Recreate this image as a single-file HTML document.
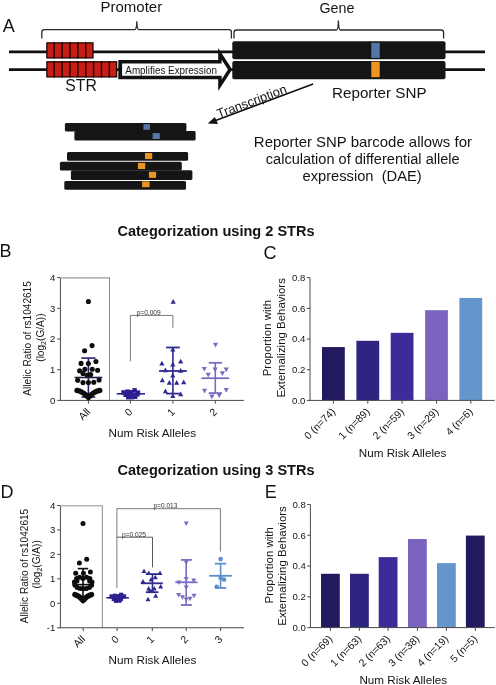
<!DOCTYPE html>
<html><head><meta charset="utf-8"><title>Figure</title>
<style>
html,body{margin:0;padding:0;background:#fff;}
body{width:496px;height:685px;overflow:hidden;}
svg{display:block;}
svg text{font-family:"Liberation Sans", Arial, Helvetica, sans-serif;}
</style></head>
<body>
<svg width="496" height="685" viewBox="0 0 496 685">
<rect x="0" y="0" width="496" height="685" fill="#fff"/>
<text x="2.70" y="31.90" font-size="18" text-anchor="start" fill="#141414">A</text>
<text x="131.30" y="11.50" font-size="15" text-anchor="middle" fill="#141414">Promoter</text>
<text x="337.00" y="13.20" font-size="14.3" text-anchor="middle" fill="#141414">Gene</text>
<path d="M41.8,38.6 L41.8,32.2 Q41.8,29.6 44.4,29.6 L134.8,29.6 Q136.6,29.6 136.8,21.2 Q137.0,29.6 138.8,29.6 L228.8,29.6 Q231.4,29.6 231.4,32.2 L231.4,38.6" fill="none" stroke="#2a2a2a" stroke-width="1.3"/>
<path d="M234.0,38.6 L234.0,32.6 Q234.0,30.0 236.6,30.0 L336.4,30.0 Q338.2,30.0 338.4,20.4 Q338.6,30.0 340.4,30.0 L441.0,30.0 Q443.6,30.0 443.6,32.6 L443.6,38.6" fill="none" stroke="#2a2a2a" stroke-width="1.3"/>
<line x1="9.00" y1="51.90" x2="485.00" y2="51.90" stroke="#111" stroke-width="2.6"/>
<line x1="9.00" y1="69.60" x2="485.00" y2="69.60" stroke="#111" stroke-width="2.6"/>
<rect x="46.90" y="42.90" width="46.08" height="15.00" fill="#c81e15" stroke="#1e0202" stroke-width="1.3"/>
<line x1="54.18" y1="42.30" x2="54.18" y2="58.50" stroke="#1e0202" stroke-width="1.45"/>
<line x1="62.06" y1="42.30" x2="62.06" y2="58.50" stroke="#1e0202" stroke-width="1.45"/>
<line x1="69.94" y1="42.30" x2="69.94" y2="58.50" stroke="#1e0202" stroke-width="1.45"/>
<line x1="77.82" y1="42.30" x2="77.82" y2="58.50" stroke="#1e0202" stroke-width="1.45"/>
<line x1="85.70" y1="42.30" x2="85.70" y2="58.50" stroke="#1e0202" stroke-width="1.45"/>
<rect x="46.90" y="61.80" width="69.72" height="15.10" fill="#c81e15" stroke="#1e0202" stroke-width="1.3"/>
<line x1="54.18" y1="61.20" x2="54.18" y2="77.50" stroke="#1e0202" stroke-width="1.45"/>
<line x1="62.06" y1="61.20" x2="62.06" y2="77.50" stroke="#1e0202" stroke-width="1.45"/>
<line x1="69.94" y1="61.20" x2="69.94" y2="77.50" stroke="#1e0202" stroke-width="1.45"/>
<line x1="77.82" y1="61.20" x2="77.82" y2="77.50" stroke="#1e0202" stroke-width="1.45"/>
<line x1="85.70" y1="61.20" x2="85.70" y2="77.50" stroke="#1e0202" stroke-width="1.45"/>
<line x1="93.58" y1="61.20" x2="93.58" y2="77.50" stroke="#1e0202" stroke-width="1.45"/>
<line x1="101.46" y1="61.20" x2="101.46" y2="77.50" stroke="#1e0202" stroke-width="1.45"/>
<line x1="109.34" y1="61.20" x2="109.34" y2="77.50" stroke="#1e0202" stroke-width="1.45"/>
<text x="81.10" y="90.60" font-size="15.8" text-anchor="middle" fill="#141414">STR</text>
<polygon points="118.3,60.0 218.2,60.0 218.2,48.1 232.2,69.6 218.2,91.1 218.2,79.3 118.3,79.3" fill="#111"/>
<polygon points="122.1,63.6 221.6,63.6 221.6,59.7 228.0,69.6 221.6,79.5 221.6,75.7 122.1,75.7" fill="#fff"/>
<text x="171.10" y="73.50" font-size="10.6" text-anchor="middle" fill="#141414" textLength="91.6" lengthAdjust="spacingAndGlyphs">Amplifies Expression</text>
<rect x="232.30" y="41.30" width="213.20" height="17.90" fill="#151515" rx="2"/>
<rect x="232.30" y="61.00" width="213.20" height="18.20" fill="#151515" rx="2"/>
<rect x="371.30" y="42.80" width="8.40" height="15.10" fill="#5577a8"/>
<rect x="371.30" y="61.70" width="8.40" height="15.50" fill="#f0941f"/>
<text x="379.30" y="97.80" font-size="15.2" text-anchor="middle" fill="#141414">Reporter SNP</text>
<line x1="313.1" y1="84.0" x2="215.0" y2="120.8" stroke="#111" stroke-width="1.6"/>
<polygon points="207.7,123.6 214.9,116.9 217.9,124.0" fill="#111"/>
<text x="253.20" y="105.40" font-size="12.8" text-anchor="middle" fill="#141414" transform="rotate(-20.6 253.20 105.40)">Transcription</text>
<rect x="64.90" y="122.90" width="121.50" height="8.50" fill="#151515" rx="1.5"/>
<rect x="74.40" y="131.00" width="121.20" height="9.50" fill="#151515" rx="1.5"/>
<rect x="143.40" y="124.20" width="6.60" height="5.60" fill="#5577a8"/>
<rect x="152.60" y="133.10" width="7.20" height="5.90" fill="#5577a8"/>
<rect x="67.00" y="152.00" width="121.10" height="8.80" fill="#151515" rx="1.5"/>
<rect x="59.90" y="161.70" width="121.90" height="8.90" fill="#151515" rx="1.5"/>
<rect x="70.90" y="170.30" width="121.50" height="9.60" fill="#151515" rx="1.5"/>
<rect x="64.30" y="181.00" width="121.70" height="8.80" fill="#151515" rx="1.5"/>
<rect x="145.00" y="153.00" width="7.20" height="6.10" fill="#eb9424"/>
<rect x="137.90" y="162.90" width="7.30" height="6.10" fill="#eb9424"/>
<rect x="148.90" y="171.80" width="7.20" height="6.10" fill="#eb9424"/>
<rect x="142.10" y="181.40" width="7.50" height="5.80" fill="#eb9424"/>
<text x="362.90" y="146.90" font-size="14.95" text-anchor="middle" fill="#141414">Reporter SNP barcode allows for</text>
<text x="362.70" y="163.60" font-size="14.55" text-anchor="middle" fill="#141414">calculation of differential allele</text>
<text x="362.10" y="180.50" font-size="14.7" text-anchor="middle" fill="#141414">expression&#160; (DAE)</text>
<text x="216.00" y="236.20" font-size="14.55" text-anchor="middle" font-weight="bold" fill="#141414">Categorization using 2 STRs</text>
<text x="216.00" y="475.20" font-size="14.55" text-anchor="middle" font-weight="bold" fill="#141414">Categorization using 3 STRs</text>
<text x="-0.40" y="256.80" font-size="18" text-anchor="start" fill="#141414">B</text>
<line x1="60.40" y1="277.60" x2="60.40" y2="400.90" stroke="#4a4a4a" stroke-width="1.0"/>
<line x1="57.20" y1="400.40" x2="60.40" y2="400.40" stroke="#4a4a4a" stroke-width="1.0"/>
<text x="55.40" y="403.85" font-size="9.6" text-anchor="end" fill="#141414">0</text>
<line x1="57.20" y1="369.70" x2="60.40" y2="369.70" stroke="#4a4a4a" stroke-width="1.0"/>
<text x="55.40" y="373.15" font-size="9.6" text-anchor="end" fill="#141414">1</text>
<line x1="57.20" y1="339.00" x2="60.40" y2="339.00" stroke="#4a4a4a" stroke-width="1.0"/>
<text x="55.40" y="342.45" font-size="9.6" text-anchor="end" fill="#141414">2</text>
<line x1="57.20" y1="308.30" x2="60.40" y2="308.30" stroke="#4a4a4a" stroke-width="1.0"/>
<text x="55.40" y="311.75" font-size="9.6" text-anchor="end" fill="#141414">3</text>
<line x1="57.20" y1="277.60" x2="60.40" y2="277.60" stroke="#4a4a4a" stroke-width="1.0"/>
<text x="55.40" y="281.05" font-size="9.6" text-anchor="end" fill="#141414">4</text>
<line x1="60.40" y1="277.90" x2="109.50" y2="277.90" stroke="#b8b8b8" stroke-width="1.6"/>
<line x1="109.50" y1="277.60" x2="109.50" y2="400.40" stroke="#8a8a8a" stroke-width="1.0"/>
<line x1="59.90" y1="400.40" x2="244.00" y2="400.40" stroke="#4a4a4a" stroke-width="1.0"/>
<line x1="88.40" y1="400.40" x2="88.40" y2="403.70" stroke="#4a4a4a" stroke-width="1.0"/>
<line x1="130.40" y1="400.40" x2="130.40" y2="403.70" stroke="#4a4a4a" stroke-width="1.0"/>
<line x1="172.90" y1="400.40" x2="172.90" y2="403.70" stroke="#4a4a4a" stroke-width="1.0"/>
<line x1="215.30" y1="400.40" x2="215.30" y2="403.70" stroke="#4a4a4a" stroke-width="1.0"/>
<text x="91.00" y="412.60" font-size="10.4" text-anchor="end" fill="#141414" transform="rotate(-45 91.00 412.60)">All</text>
<text x="133.00" y="412.60" font-size="10.4" text-anchor="end" fill="#141414" transform="rotate(-45 133.00 412.60)">0</text>
<text x="175.50" y="412.60" font-size="10.4" text-anchor="end" fill="#141414" transform="rotate(-45 175.50 412.60)">1</text>
<text x="217.90" y="412.60" font-size="10.4" text-anchor="end" fill="#141414" transform="rotate(-45 217.90 412.60)">2</text>
<text x="152.35" y="436.80" font-size="11.7" text-anchor="middle" fill="#141414">Num Risk Alleles</text>
<text x="31.20" y="338.40" font-size="10.1" text-anchor="middle" fill="#141414" transform="rotate(-90 31.20 338.40)">Allelic Ratio of rs1042615</text>
<text x="43.6" y="337.6" font-size="10.1" text-anchor="middle" fill="#141414" transform="rotate(-90 43.6 337.6)">(log<tspan font-size="7" dy="2">2</tspan><tspan dy="-2">(G/A))</tspan></text>
<path d="M130.4,361.3 L130.4,315.4 L172.9,315.4 L172.9,327.7" fill="none" stroke="#7a7a7a" stroke-width="1"/>
<text x="148.70" y="314.90" font-size="6.6" text-anchor="middle" fill="#333">p=0.009</text>
<line x1="88.40" y1="358.10" x2="88.40" y2="397.40" stroke="#28236e" stroke-width="1.6"/>
<line x1="81.30" y1="358.10" x2="95.50" y2="358.10" stroke="#28236e" stroke-width="1.6"/>
<line x1="81.50" y1="397.10" x2="95.30" y2="397.10" stroke="#28236e" stroke-width="1.6"/>
<circle cx="92.10" cy="345.60" r="2.55" fill="#0d0d0d"/>
<circle cx="84.60" cy="350.70" r="2.55" fill="#0d0d0d"/>
<circle cx="81.10" cy="363.40" r="2.55" fill="#0d0d0d"/>
<circle cx="88.40" cy="363.60" r="2.55" fill="#0d0d0d"/>
<circle cx="95.90" cy="361.50" r="2.55" fill="#0d0d0d"/>
<circle cx="79.60" cy="370.70" r="2.55" fill="#0d0d0d"/>
<circle cx="84.90" cy="369.20" r="2.55" fill="#0d0d0d"/>
<circle cx="92.20" cy="369.20" r="2.55" fill="#0d0d0d"/>
<circle cx="97.60" cy="370.30" r="2.55" fill="#0d0d0d"/>
<circle cx="83.00" cy="373.40" r="2.55" fill="#0d0d0d"/>
<circle cx="87.20" cy="375.30" r="2.55" fill="#0d0d0d"/>
<circle cx="90.70" cy="374.50" r="2.55" fill="#0d0d0d"/>
<circle cx="77.70" cy="380.30" r="2.55" fill="#0d0d0d"/>
<circle cx="83.00" cy="382.60" r="2.55" fill="#0d0d0d"/>
<circle cx="88.40" cy="382.60" r="2.55" fill="#0d0d0d"/>
<circle cx="93.80" cy="382.20" r="2.55" fill="#0d0d0d"/>
<circle cx="99.10" cy="379.90" r="2.55" fill="#0d0d0d"/>
<circle cx="88.40" cy="301.50" r="2.55" fill="#0d0d0d"/>
<path d="M77.0,390.4 Q83.2,391.6 88.4,397.6 Q93.6,391.6 99.8,390.4" fill="none" stroke="#0d0d0d" stroke-width="5.4" stroke-linecap="round" stroke-linejoin="round"/>
<line x1="74.60" y1="377.50" x2="102.30" y2="377.50" stroke="#1f1f3f" stroke-width="1.6"/>
<rect x="121.30" y="390.20" width="4.40" height="4.40" fill="#2a2090"/>
<rect x="125.30" y="389.40" width="4.40" height="4.40" fill="#2a2090"/>
<rect x="128.80" y="390.00" width="4.40" height="4.40" fill="#2a2090"/>
<rect x="132.40" y="388.10" width="4.40" height="4.40" fill="#2a2090"/>
<rect x="135.80" y="390.40" width="4.40" height="4.40" fill="#2a2090"/>
<rect x="123.40" y="392.60" width="4.40" height="4.40" fill="#2a2090"/>
<rect x="127.60" y="393.00" width="4.40" height="4.40" fill="#2a2090"/>
<rect x="131.60" y="392.60" width="4.40" height="4.40" fill="#2a2090"/>
<rect x="135.20" y="392.20" width="4.40" height="4.40" fill="#2a2090"/>
<rect x="126.00" y="395.00" width="4.40" height="4.40" fill="#2a2090"/>
<rect x="129.80" y="395.00" width="4.40" height="4.40" fill="#2a2090"/>
<rect x="133.00" y="394.60" width="4.40" height="4.40" fill="#2a2090"/>
<line x1="116.80" y1="393.80" x2="145.00" y2="393.80" stroke="#2a2090" stroke-width="1.6"/>
<line x1="172.90" y1="347.50" x2="172.90" y2="393.60" stroke="#2e2a8e" stroke-width="1.6"/>
<line x1="166.10" y1="347.50" x2="179.80" y2="347.50" stroke="#2e2a8e" stroke-width="1.8"/>
<line x1="166.10" y1="393.60" x2="179.80" y2="393.60" stroke="#2e2a8e" stroke-width="1.8"/>
<line x1="159.10" y1="371.00" x2="186.80" y2="371.00" stroke="#2e2a8e" stroke-width="1.8"/>
<polygon points="173.20,299.00 170.60,303.68 175.80,303.68" fill="#2e2a8e"/>
<polygon points="172.80,346.70 170.20,351.38 175.40,351.38" fill="#2e2a8e"/>
<polygon points="161.90,360.80 159.30,365.48 164.50,365.48" fill="#2e2a8e"/>
<polygon points="180.70,358.70 178.10,363.38 183.30,363.38" fill="#2e2a8e"/>
<polygon points="172.80,361.70 170.20,366.38 175.40,366.38" fill="#2e2a8e"/>
<polygon points="165.40,367.50 162.80,372.18 168.00,372.18" fill="#2e2a8e"/>
<polygon points="180.70,368.10 178.10,372.78 183.30,372.78" fill="#2e2a8e"/>
<polygon points="172.80,372.70 170.20,377.38 175.40,377.38" fill="#2e2a8e"/>
<polygon points="162.30,377.50 159.70,382.18 164.90,382.18" fill="#2e2a8e"/>
<polygon points="169.30,380.10 166.70,384.78 171.90,384.78" fill="#2e2a8e"/>
<polygon points="176.70,380.10 174.10,384.78 179.30,384.78" fill="#2e2a8e"/>
<polygon points="183.70,379.60 181.10,384.28 186.30,384.28" fill="#2e2a8e"/>
<polygon points="165.40,388.50 162.80,393.18 168.00,393.18" fill="#2e2a8e"/>
<polygon points="180.70,391.50 178.10,396.18 183.30,396.18" fill="#2e2a8e"/>
<polygon points="172.80,393.20 170.20,397.88 175.40,397.88" fill="#2e2a8e"/>
<line x1="215.30" y1="362.80" x2="215.30" y2="393.10" stroke="#7b6cc0" stroke-width="1.6"/>
<line x1="208.70" y1="362.80" x2="222.10" y2="362.80" stroke="#7b6cc0" stroke-width="1.8"/>
<line x1="208.70" y1="393.10" x2="222.10" y2="393.10" stroke="#7b6cc0" stroke-width="1.8"/>
<line x1="201.40" y1="378.20" x2="229.10" y2="378.20" stroke="#7b6cc0" stroke-width="1.8"/>
<polygon points="215.50,347.50 212.90,342.82 218.10,342.82" fill="#7b6cc0"/>
<polygon points="204.30,371.60 201.70,366.92 206.90,366.92" fill="#7b6cc0"/>
<polygon points="215.10,372.30 212.50,367.62 217.70,367.62" fill="#7b6cc0"/>
<polygon points="226.20,372.30 223.60,367.62 228.80,367.62" fill="#7b6cc0"/>
<polygon points="208.20,377.40 205.60,372.72 210.80,372.72" fill="#7b6cc0"/>
<polygon points="222.40,376.00 219.80,371.32 225.00,371.32" fill="#7b6cc0"/>
<polygon points="204.60,393.50 202.00,388.82 207.20,388.82" fill="#7b6cc0"/>
<polygon points="226.20,392.80 223.60,388.12 228.80,388.12" fill="#7b6cc0"/>
<polygon points="211.90,399.30 209.30,394.62 214.50,394.62" fill="#7b6cc0"/>
<polygon points="219.20,397.90 216.60,393.22 221.80,393.22" fill="#7b6cc0"/>
<text x="263.40" y="258.60" font-size="18" text-anchor="start" fill="#141414">C</text>
<line x1="310.00" y1="277.68" x2="310.00" y2="400.90" stroke="#4a4a4a" stroke-width="1.0"/>
<line x1="306.80" y1="400.40" x2="310.00" y2="400.40" stroke="#4a4a4a" stroke-width="1.0"/>
<text x="305.40" y="403.85" font-size="9.6" text-anchor="end" fill="#141414">0.0</text>
<line x1="306.80" y1="369.72" x2="310.00" y2="369.72" stroke="#4a4a4a" stroke-width="1.0"/>
<text x="305.40" y="373.17" font-size="9.6" text-anchor="end" fill="#141414">0.2</text>
<line x1="306.80" y1="339.04" x2="310.00" y2="339.04" stroke="#4a4a4a" stroke-width="1.0"/>
<text x="305.40" y="342.49" font-size="9.6" text-anchor="end" fill="#141414">0.4</text>
<line x1="306.80" y1="308.36" x2="310.00" y2="308.36" stroke="#4a4a4a" stroke-width="1.0"/>
<text x="305.40" y="311.81" font-size="9.6" text-anchor="end" fill="#141414">0.6</text>
<line x1="306.80" y1="277.68" x2="310.00" y2="277.68" stroke="#4a4a4a" stroke-width="1.0"/>
<text x="305.40" y="281.13" font-size="9.6" text-anchor="end" fill="#141414">0.8</text>
<rect x="322.00" y="347.09" width="22.80" height="53.31" fill="#221a5e"/>
<rect x="356.40" y="340.80" width="22.80" height="59.60" fill="#2e2580"/>
<rect x="390.70" y="332.83" width="22.80" height="67.57" fill="#3b2c99"/>
<rect x="425.10" y="310.20" width="22.80" height="90.20" fill="#7b64c0"/>
<rect x="459.40" y="297.93" width="22.80" height="102.47" fill="#6496cc"/>
<line x1="309.50" y1="400.40" x2="494.70" y2="400.40" stroke="#4a4a4a" stroke-width="1.0"/>
<line x1="333.40" y1="400.40" x2="333.40" y2="403.70" stroke="#4a4a4a" stroke-width="1.0"/>
<line x1="367.80" y1="400.40" x2="367.80" y2="403.70" stroke="#4a4a4a" stroke-width="1.0"/>
<line x1="402.10" y1="400.40" x2="402.10" y2="403.70" stroke="#4a4a4a" stroke-width="1.0"/>
<line x1="436.50" y1="400.40" x2="436.50" y2="403.70" stroke="#4a4a4a" stroke-width="1.0"/>
<line x1="470.80" y1="400.40" x2="470.80" y2="403.70" stroke="#4a4a4a" stroke-width="1.0"/>
<text x="336.00" y="412.40" font-size="10.4" text-anchor="end" fill="#141414" transform="rotate(-45 336.00 412.40)">0 (n=74)</text>
<text x="370.40" y="412.40" font-size="10.4" text-anchor="end" fill="#141414" transform="rotate(-45 370.40 412.40)">1 (n=89)</text>
<text x="404.70" y="412.40" font-size="10.4" text-anchor="end" fill="#141414" transform="rotate(-45 404.70 412.40)">2 (n=59)</text>
<text x="439.10" y="412.40" font-size="10.4" text-anchor="end" fill="#141414" transform="rotate(-45 439.10 412.40)">3 (n=29)</text>
<text x="473.40" y="412.40" font-size="10.4" text-anchor="end" fill="#141414" transform="rotate(-45 473.40 412.40)">4 (n=6)</text>
<text x="402.55" y="456.60" font-size="11.7" text-anchor="middle" fill="#141414">Num Risk Alleles</text>
<text x="271.50" y="338.10" font-size="11.45" text-anchor="middle" fill="#141414" transform="rotate(-90 271.50 338.10)">Proportion with</text>
<text x="285.10" y="337.85" font-size="11.45" text-anchor="middle" fill="#141414" transform="rotate(-90 285.10 337.85)">Externalizing Behaviors</text>
<text x="0.60" y="498.00" font-size="18" text-anchor="start" fill="#141414">D</text>
<line x1="60.40" y1="505.50" x2="60.40" y2="628.25" stroke="#4a4a4a" stroke-width="1.0"/>
<line x1="57.20" y1="627.75" x2="60.40" y2="627.75" stroke="#4a4a4a" stroke-width="1.0"/>
<text x="55.40" y="631.20" font-size="9.6" text-anchor="end" fill="#141414">-1</text>
<line x1="57.20" y1="603.30" x2="60.40" y2="603.30" stroke="#4a4a4a" stroke-width="1.0"/>
<text x="55.40" y="606.75" font-size="9.6" text-anchor="end" fill="#141414">0</text>
<line x1="57.20" y1="578.85" x2="60.40" y2="578.85" stroke="#4a4a4a" stroke-width="1.0"/>
<text x="55.40" y="582.30" font-size="9.6" text-anchor="end" fill="#141414">1</text>
<line x1="57.20" y1="554.40" x2="60.40" y2="554.40" stroke="#4a4a4a" stroke-width="1.0"/>
<text x="55.40" y="557.85" font-size="9.6" text-anchor="end" fill="#141414">2</text>
<line x1="57.20" y1="529.95" x2="60.40" y2="529.95" stroke="#4a4a4a" stroke-width="1.0"/>
<text x="55.40" y="533.40" font-size="9.6" text-anchor="end" fill="#141414">3</text>
<line x1="57.20" y1="505.50" x2="60.40" y2="505.50" stroke="#4a4a4a" stroke-width="1.0"/>
<text x="55.40" y="508.95" font-size="9.6" text-anchor="end" fill="#141414">4</text>
<line x1="60.40" y1="505.80" x2="102.30" y2="505.80" stroke="#b8b8b8" stroke-width="1.6"/>
<line x1="102.30" y1="505.50" x2="102.30" y2="627.75" stroke="#8a8a8a" stroke-width="1.0"/>
<line x1="59.90" y1="627.75" x2="244.00" y2="627.75" stroke="#4a4a4a" stroke-width="1.0"/>
<line x1="83.20" y1="627.75" x2="83.20" y2="631.05" stroke="#4a4a4a" stroke-width="1.0"/>
<line x1="117.10" y1="627.75" x2="117.10" y2="631.05" stroke="#4a4a4a" stroke-width="1.0"/>
<line x1="152.30" y1="627.75" x2="152.30" y2="631.05" stroke="#4a4a4a" stroke-width="1.0"/>
<line x1="186.20" y1="627.75" x2="186.20" y2="631.05" stroke="#4a4a4a" stroke-width="1.0"/>
<line x1="220.60" y1="627.75" x2="220.60" y2="631.05" stroke="#4a4a4a" stroke-width="1.0"/>
<text x="85.80" y="639.95" font-size="10.4" text-anchor="end" fill="#141414" transform="rotate(-45 85.80 639.95)">All</text>
<text x="119.70" y="639.95" font-size="10.4" text-anchor="end" fill="#141414" transform="rotate(-45 119.70 639.95)">0</text>
<text x="154.90" y="639.95" font-size="10.4" text-anchor="end" fill="#141414" transform="rotate(-45 154.90 639.95)">1</text>
<text x="188.80" y="639.95" font-size="10.4" text-anchor="end" fill="#141414" transform="rotate(-45 188.80 639.95)">2</text>
<text x="223.20" y="639.95" font-size="10.4" text-anchor="end" fill="#141414" transform="rotate(-45 223.20 639.95)">3</text>
<text x="152.45" y="664.20" font-size="11.7" text-anchor="middle" fill="#141414">Num Risk Alleles</text>
<text x="27.60" y="566.00" font-size="10.1" text-anchor="middle" fill="#141414" transform="rotate(-90 27.60 566.00)">Allelic Ratio of rs1042615</text>
<text x="40.4" y="564.3" font-size="10.1" text-anchor="middle" fill="#141414" transform="rotate(-90 40.4 564.3)">(log<tspan font-size="7" dy="2">2</tspan><tspan dy="-2">(G/A))</tspan></text>
<path d="M116.9,588.2 L116.9,508.7 L220.4,508.7 L220.4,551.6" fill="none" stroke="#7a7a7a" stroke-width="1"/>
<path d="M116.9,537.2 L152.5,537.2 L152.5,567.4" fill="none" stroke="#5a5a5a" stroke-width="1"/>
<text x="165.40" y="508.00" font-size="6.6" text-anchor="middle" fill="#333">p=0.013</text>
<text x="134.00" y="536.60" font-size="6.6" text-anchor="middle" fill="#333">p=0.025</text>
<line x1="83.00" y1="568.60" x2="83.00" y2="599.00" stroke="#0d0d0d" stroke-width="1.6"/>
<line x1="77.70" y1="568.60" x2="88.20" y2="568.60" stroke="#0d0d0d" stroke-width="1.6"/>
<circle cx="83.00" cy="523.50" r="2.5" fill="#0d0d0d"/>
<circle cx="86.70" cy="559.20" r="2.5" fill="#0d0d0d"/>
<circle cx="79.40" cy="563.10" r="2.5" fill="#0d0d0d"/>
<circle cx="75.70" cy="573.20" r="2.5" fill="#0d0d0d"/>
<circle cx="83.40" cy="573.20" r="2.5" fill="#0d0d0d"/>
<circle cx="90.40" cy="571.90" r="2.5" fill="#0d0d0d"/>
<circle cx="76.60" cy="578.60" r="2.5" fill="#0d0d0d"/>
<circle cx="79.60" cy="577.30" r="2.5" fill="#0d0d0d"/>
<circle cx="83.00" cy="578.40" r="2.5" fill="#0d0d0d"/>
<circle cx="86.60" cy="577.30" r="2.5" fill="#0d0d0d"/>
<circle cx="89.80" cy="578.60" r="2.5" fill="#0d0d0d"/>
<circle cx="74.40" cy="582.00" r="2.5" fill="#0d0d0d"/>
<circle cx="75.00" cy="585.20" r="2.5" fill="#0d0d0d"/>
<circle cx="92.00" cy="582.00" r="2.5" fill="#0d0d0d"/>
<circle cx="91.60" cy="585.20" r="2.5" fill="#0d0d0d"/>
<circle cx="77.00" cy="581.00" r="2.5" fill="#0d0d0d"/>
<circle cx="89.60" cy="581.00" r="2.5" fill="#0d0d0d"/>
<circle cx="77.20" cy="587.60" r="2.5" fill="#0d0d0d"/>
<circle cx="80.20" cy="588.60" r="2.5" fill="#0d0d0d"/>
<circle cx="83.30" cy="588.80" r="2.5" fill="#0d0d0d"/>
<circle cx="86.40" cy="588.60" r="2.5" fill="#0d0d0d"/>
<circle cx="89.40" cy="587.60" r="2.5" fill="#0d0d0d"/>
<path d="M74.9,594.6 Q79.6,596.0 83.1,600.6 Q86.6,596.0 91.5,594.6" fill="none" stroke="#0d0d0d" stroke-width="5.4" stroke-linecap="round" stroke-linejoin="round"/>
<line x1="72.40" y1="584.60" x2="93.90" y2="584.60" stroke="#0d0d0d" stroke-width="1.6"/>
<rect x="109.40" y="594.40" width="4.20" height="4.20" fill="#2a2090"/>
<rect x="112.70" y="593.70" width="4.20" height="4.20" fill="#2a2090"/>
<rect x="116.10" y="594.10" width="4.20" height="4.20" fill="#2a2090"/>
<rect x="119.10" y="592.70" width="4.20" height="4.20" fill="#2a2090"/>
<rect x="121.90" y="594.30" width="4.20" height="4.20" fill="#2a2090"/>
<rect x="111.70" y="596.90" width="4.20" height="4.20" fill="#2a2090"/>
<rect x="115.30" y="597.30" width="4.20" height="4.20" fill="#2a2090"/>
<rect x="118.90" y="596.70" width="4.20" height="4.20" fill="#2a2090"/>
<rect x="113.90" y="598.70" width="4.20" height="4.20" fill="#2a2090"/>
<rect x="117.50" y="598.50" width="4.20" height="4.20" fill="#2a2090"/>
<line x1="106.40" y1="597.80" x2="128.90" y2="597.80" stroke="#2a2090" stroke-width="1.6"/>
<line x1="152.50" y1="574.10" x2="152.50" y2="592.20" stroke="#2e2a8e" stroke-width="1.6"/>
<line x1="145.90" y1="574.10" x2="160.70" y2="574.10" stroke="#2e2a8e" stroke-width="1.8"/>
<line x1="145.90" y1="592.20" x2="158.50" y2="592.20" stroke="#2e2a8e" stroke-width="1.8"/>
<line x1="140.90" y1="583.30" x2="162.80" y2="583.30" stroke="#2e2a8e" stroke-width="1.8"/>
<polygon points="144.00,568.51 141.50,573.01 146.50,573.01" fill="#2e2a8e"/>
<polygon points="148.70,570.61 146.20,575.11 151.20,575.11" fill="#2e2a8e"/>
<polygon points="160.00,570.61 157.50,575.11 162.50,575.11" fill="#2e2a8e"/>
<polygon points="155.30,574.81 152.80,579.31 157.80,579.31" fill="#2e2a8e"/>
<polygon points="151.10,577.01 148.60,581.51 153.60,581.51" fill="#2e2a8e"/>
<polygon points="143.00,579.11 140.50,583.61 145.50,583.61" fill="#2e2a8e"/>
<polygon points="160.70,584.01 158.20,588.51 163.20,588.51" fill="#2e2a8e"/>
<polygon points="148.70,586.11 146.20,590.61 151.20,590.61" fill="#2e2a8e"/>
<polygon points="154.30,586.11 151.80,590.61 156.80,590.61" fill="#2e2a8e"/>
<polygon points="149.70,588.21 147.20,592.71 152.20,592.71" fill="#2e2a8e"/>
<polygon points="152.20,588.21 149.70,592.71 154.70,592.71" fill="#2e2a8e"/>
<polygon points="155.70,593.21 153.20,597.71 158.20,597.71" fill="#2e2a8e"/>
<polygon points="148.00,596.71 145.50,601.21 150.50,601.21" fill="#2e2a8e"/>
<line x1="186.20" y1="559.90" x2="186.20" y2="605.00" stroke="#7b6cc0" stroke-width="1.6"/>
<line x1="180.90" y1="559.90" x2="191.90" y2="559.90" stroke="#7b6cc0" stroke-width="1.8"/>
<line x1="180.90" y1="605.00" x2="191.90" y2="605.00" stroke="#7b6cc0" stroke-width="1.8"/>
<line x1="175.30" y1="582.30" x2="197.50" y2="582.30" stroke="#7b6cc0" stroke-width="1.8"/>
<polygon points="186.20,526.09 183.70,521.59 188.70,521.59" fill="#7b6cc0"/>
<polygon points="186.20,564.99 183.70,560.49 188.70,560.49" fill="#7b6cc0"/>
<polygon points="178.90,585.09 176.40,580.59 181.40,580.59" fill="#7b6cc0"/>
<polygon points="193.70,583.09 191.20,578.59 196.20,578.59" fill="#7b6cc0"/>
<polygon points="186.20,581.59 183.70,577.09 188.70,577.09" fill="#7b6cc0"/>
<polygon points="186.20,589.89 183.70,585.39 188.70,585.39" fill="#7b6cc0"/>
<polygon points="178.60,597.49 176.10,592.99 181.10,592.99" fill="#7b6cc0"/>
<polygon points="182.40,599.79 179.90,595.29 184.90,595.29" fill="#7b6cc0"/>
<polygon points="186.20,601.99 183.70,597.49 188.70,597.49" fill="#7b6cc0"/>
<polygon points="190.00,601.29 187.50,596.79 192.50,596.79" fill="#7b6cc0"/>
<polygon points="194.00,598.19 191.50,593.69 196.50,593.69" fill="#7b6cc0"/>
<line x1="220.60" y1="563.70" x2="220.60" y2="587.90" stroke="#5b8fd0" stroke-width="1.6"/>
<line x1="214.90" y1="563.70" x2="226.20" y2="563.70" stroke="#5b8fd0" stroke-width="1.8"/>
<line x1="214.90" y1="587.90" x2="226.20" y2="587.90" stroke="#5b8fd0" stroke-width="1.8"/>
<line x1="209.20" y1="575.80" x2="231.80" y2="575.80" stroke="#5b8fd0" stroke-width="1.8"/>
<circle cx="220.60" cy="559.10" r="2.3" fill="#5b8fd0"/>
<circle cx="220.60" cy="578.00" r="2.3" fill="#5b8fd0"/>
<circle cx="224.00" cy="579.60" r="2.3" fill="#5b8fd0"/>
<circle cx="216.70" cy="586.80" r="2.3" fill="#5b8fd0"/>
<text x="264.80" y="498.00" font-size="18" text-anchor="start" fill="#141414">E</text>
<line x1="310.40" y1="504.48" x2="310.40" y2="628.10" stroke="#4a4a4a" stroke-width="1.0"/>
<line x1="307.20" y1="627.60" x2="310.40" y2="627.60" stroke="#4a4a4a" stroke-width="1.0"/>
<text x="305.80" y="631.05" font-size="9.6" text-anchor="end" fill="#141414">0.0</text>
<line x1="307.20" y1="596.82" x2="310.40" y2="596.82" stroke="#4a4a4a" stroke-width="1.0"/>
<text x="305.80" y="600.27" font-size="9.6" text-anchor="end" fill="#141414">0.2</text>
<line x1="307.20" y1="566.04" x2="310.40" y2="566.04" stroke="#4a4a4a" stroke-width="1.0"/>
<text x="305.80" y="569.49" font-size="9.6" text-anchor="end" fill="#141414">0.4</text>
<line x1="307.20" y1="535.26" x2="310.40" y2="535.26" stroke="#4a4a4a" stroke-width="1.0"/>
<text x="305.80" y="538.71" font-size="9.6" text-anchor="end" fill="#141414">0.6</text>
<line x1="307.20" y1="504.48" x2="310.40" y2="504.48" stroke="#4a4a4a" stroke-width="1.0"/>
<text x="305.80" y="507.93" font-size="9.6" text-anchor="end" fill="#141414">0.8</text>
<rect x="321.00" y="573.78" width="18.80" height="53.82" fill="#221a5e"/>
<rect x="350.00" y="573.78" width="18.80" height="53.82" fill="#2e2580"/>
<rect x="378.70" y="557.11" width="18.80" height="70.49" fill="#3b2c99"/>
<rect x="408.00" y="539.02" width="18.80" height="88.58" fill="#7b64c0"/>
<rect x="437.00" y="563.10" width="18.80" height="64.50" fill="#6496cc"/>
<rect x="465.90" y="535.57" width="18.80" height="92.03" fill="#221a5e"/>
<line x1="309.90" y1="627.60" x2="494.80" y2="627.60" stroke="#4a4a4a" stroke-width="1.0"/>
<line x1="330.40" y1="627.60" x2="330.40" y2="630.90" stroke="#4a4a4a" stroke-width="1.0"/>
<line x1="359.40" y1="627.60" x2="359.40" y2="630.90" stroke="#4a4a4a" stroke-width="1.0"/>
<line x1="388.10" y1="627.60" x2="388.10" y2="630.90" stroke="#4a4a4a" stroke-width="1.0"/>
<line x1="417.40" y1="627.60" x2="417.40" y2="630.90" stroke="#4a4a4a" stroke-width="1.0"/>
<line x1="446.40" y1="627.60" x2="446.40" y2="630.90" stroke="#4a4a4a" stroke-width="1.0"/>
<line x1="475.30" y1="627.60" x2="475.30" y2="630.90" stroke="#4a4a4a" stroke-width="1.0"/>
<text x="333.00" y="639.60" font-size="10.4" text-anchor="end" fill="#141414" transform="rotate(-45 333.00 639.60)">0 (n=69)</text>
<text x="362.00" y="639.60" font-size="10.4" text-anchor="end" fill="#141414" transform="rotate(-45 362.00 639.60)">1 (n=63)</text>
<text x="390.70" y="639.60" font-size="10.4" text-anchor="end" fill="#141414" transform="rotate(-45 390.70 639.60)">2 (n=63)</text>
<text x="420.00" y="639.60" font-size="10.4" text-anchor="end" fill="#141414" transform="rotate(-45 420.00 639.60)">3 (n=38)</text>
<text x="449.00" y="639.60" font-size="10.4" text-anchor="end" fill="#141414" transform="rotate(-45 449.00 639.60)">4 (n=19)</text>
<text x="477.90" y="639.60" font-size="10.4" text-anchor="end" fill="#141414" transform="rotate(-45 477.90 639.60)">5 (n=5)</text>
<text x="403.25" y="684.00" font-size="11.7" text-anchor="middle" fill="#141414">Num Risk Alleles</text>
<text x="272.70" y="565.35" font-size="11.45" text-anchor="middle" fill="#141414" transform="rotate(-90 272.70 565.35)">Proportion with</text>
<text x="286.30" y="565.95" font-size="11.45" text-anchor="middle" fill="#141414" transform="rotate(-90 286.30 565.95)">Externalizing Behaviors</text>
</svg>
</body></html>
